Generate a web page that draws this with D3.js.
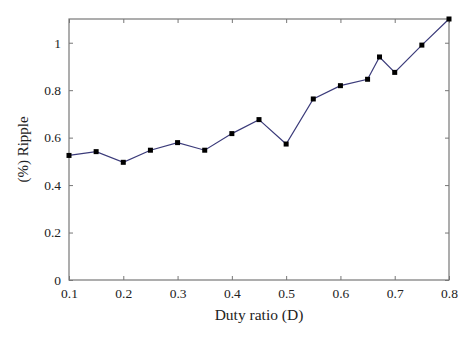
<!DOCTYPE html>
<html><head><meta charset="utf-8">
<script src="https://cdn.jsdelivr.net/npm/d3@7"></script>
<style>body{margin:0;background:#fff}svg{display:block}</style>
</head><body>
<script>
const duty = [0.1,0.15,0.2,0.25,0.3,0.35,0.4,0.45,0.5,0.55,0.6,0.65,0.672,0.7,0.75,0.8];
const ripple = [0.525,0.541,0.496,0.547,0.579,0.547,0.617,0.676,0.573,0.763,0.819,0.846,0.94,0.875,0.99,1.10];
const xTicks = [0.1,0.2,0.3,0.4,0.5,0.6,0.7,0.8];
const yTicks = [0,0.2,0.4,0.6,0.8,1];

const W=474,H=340;
const m={l:69,r:25,t:19,b:60};
const svg=d3.select("body").append("svg").attr("width",W).attr("height",H);
const x=d3.scaleLinear().domain([0.1,0.8]).range([m.l,W-m.r]);
const y=d3.scaleLinear().domain([0,1.1]).range([H-m.b,m.t]);
const font="'Liberation Serif','DejaVu Serif',serif";
const axCol="#777";

const fmt=d=>d===0?"0":d===1?"1":String(d);
svg.append("rect").attr("x",m.l).attr("y",m.t).attr("width",W-m.r-m.l).attr("height",H-m.b-m.t)
  .attr("fill","none").attr("stroke",axCol).attr("stroke-width",1.2);

const styleAxis=g=>{g.select(".domain").remove();g.selectAll("line").attr("stroke",axCol);
  g.selectAll("text").attr("font-family",font).attr("font-size",13.5).attr("fill","#222");};
svg.append("g").attr("transform",`translate(0,${H-m.b})`)
  .call(d3.axisBottom(x).tickValues(xTicks).tickSize(-4).tickPadding(8).tickFormat(fmt)).call(styleAxis);
svg.append("g").attr("transform",`translate(0,${m.t})`)
  .call(d3.axisTop(x).tickValues(xTicks).tickSize(-4).tickFormat("")).call(styleAxis);
svg.append("g").attr("transform",`translate(${m.l},0)`)
  .call(d3.axisLeft(y).tickValues(yTicks).tickSize(-4).tickPadding(8).tickFormat(fmt)).call(styleAxis);
svg.append("g").attr("transform",`translate(${W-m.r},0)`)
  .call(d3.axisRight(y).tickValues(yTicks).tickSize(-4).tickFormat("")).call(styleAxis);

const pts=duty.map((d,i)=>[d,ripple[i]]);
svg.append("path").datum(pts).attr("fill","none").attr("stroke","#3b3b7a").attr("stroke-width",1.2)
  .attr("d",d3.line().x(d=>x(d[0])).y(d=>y(d[1])));
svg.append("g").selectAll("rect").data(pts).join("rect")
  .attr("x",d=>x(d[0])-2.5).attr("y",d=>y(d[1])-2.5).attr("width",5).attr("height",5).attr("fill","#000");

svg.append("text").attr("x",(m.l+W-m.r)/2).attr("y",320).attr("text-anchor","middle")
  .attr("font-family",font).attr("font-size",15.5).attr("fill","#222").text("Duty ratio (D)");
svg.append("text").attr("transform",`translate(28,${(m.t+H-m.b)/2}) rotate(-90)`).attr("text-anchor","middle")
  .attr("font-family",font).attr("font-size",15).attr("fill","#222").text("(%) Ripple");
</script>
</body></html>
